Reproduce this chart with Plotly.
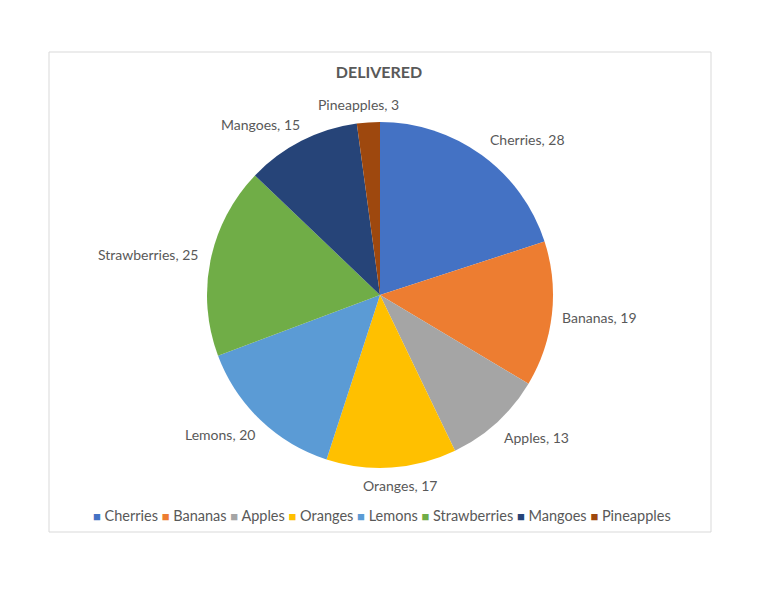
import math
import plotly.graph_objects as go

categories = ["Cherries", "Bananas", "Apples", "Oranges", "Lemons", "Strawberries", "Mangoes", "Pineapples"]
values = [28, 19, 13, 17, 20, 25, 15, 3]
colors = ["#4472C4", "#ED7D31", "#A5A5A5", "#FFC000", "#5B9BD5", "#70AD47", "#264478", "#9E480E"]
title_text = "DELIVERED"

W, H = 768, 594
FONT = "Lato"
GRAY = "#595959"
LABEL_SIZE = 14

cx, cy, r = 380, 295, 173

fig = go.Figure(go.Pie(
    labels=categories,
    values=values,
    sort=False,
    direction="clockwise",
    rotation=0,
    marker=dict(colors=colors, line=dict(width=0)),
    textinfo="none",
    hoverinfo="label+value",
    domain=dict(x=[(cx - r) / W, (cx + r) / W], y=[1 - (cy + r) / H, 1 - (cy - r) / H]),
    showlegend=False,
))

# Excel-style outside-end data labels, placed from each slice's mid angle
annotations = []
total = sum(values)
cum = 0.0
R_lab = r + 12
char_w = 6.4
half_h = 6
k = 3.2
for c, v in zip(categories, values):
    mid = (cum + v / 2) / total * 2 * math.pi
    cum += v
    dx, dy = math.sin(mid), -math.cos(mid)
    text = f"{c}, {v}"
    hw = len(text) * char_w / 2
    sx = max(-1, min(1, k * dx))
    sy = max(-1, min(1, k * dy))
    px = cx + R_lab * dx + hw * sx
    py = cy + R_lab * dy + half_h * sy
    annotations.append(dict(text=text, x=px / W, y=1 - py / H, xref="paper", yref="paper",
                            xanchor="center", yanchor="middle", showarrow=False,
                            font=dict(family=FONT, size=LABEL_SIZE, color=GRAY)))

# compact Excel-style legend row, built from the category / colour lists
legend_parts = []
for c, col in zip(categories, colors):
    legend_parts.append(f"<span style='color:{col};font-size:13px'>■</span> {c}")
legend_text = " ".join(legend_parts)
annotations.append(dict(text=legend_text, x=382 / W, y=1 - 515 / H, xref="paper", yref="paper",
                        xanchor="center", yanchor="middle", showarrow=False,
                        font=dict(family=FONT, size=14.5, color=GRAY)))

fig.update_layout(
    width=W, height=H,
    margin=dict(l=0, r=0, t=0, b=0),
    paper_bgcolor="white",
    plot_bgcolor="white",
    font=dict(family=FONT, color=GRAY),
    title=dict(text=f"<b>{title_text}</b>", x=379 / W, xanchor="center", y=1 - 72 / H, yanchor="middle",
               font=dict(family=FONT, size=16, color=GRAY)),
    shapes=[dict(type="rect", xref="paper", yref="paper",
                 x0=49 / W, x1=711 / W, y0=1 - 532 / H, y1=1 - 52 / H,
                 line=dict(color="#D9D9D9", width=1), fillcolor="rgba(0,0,0,0)", layer="below")],
    annotations=annotations,
)

fig.write_html("out.html")
